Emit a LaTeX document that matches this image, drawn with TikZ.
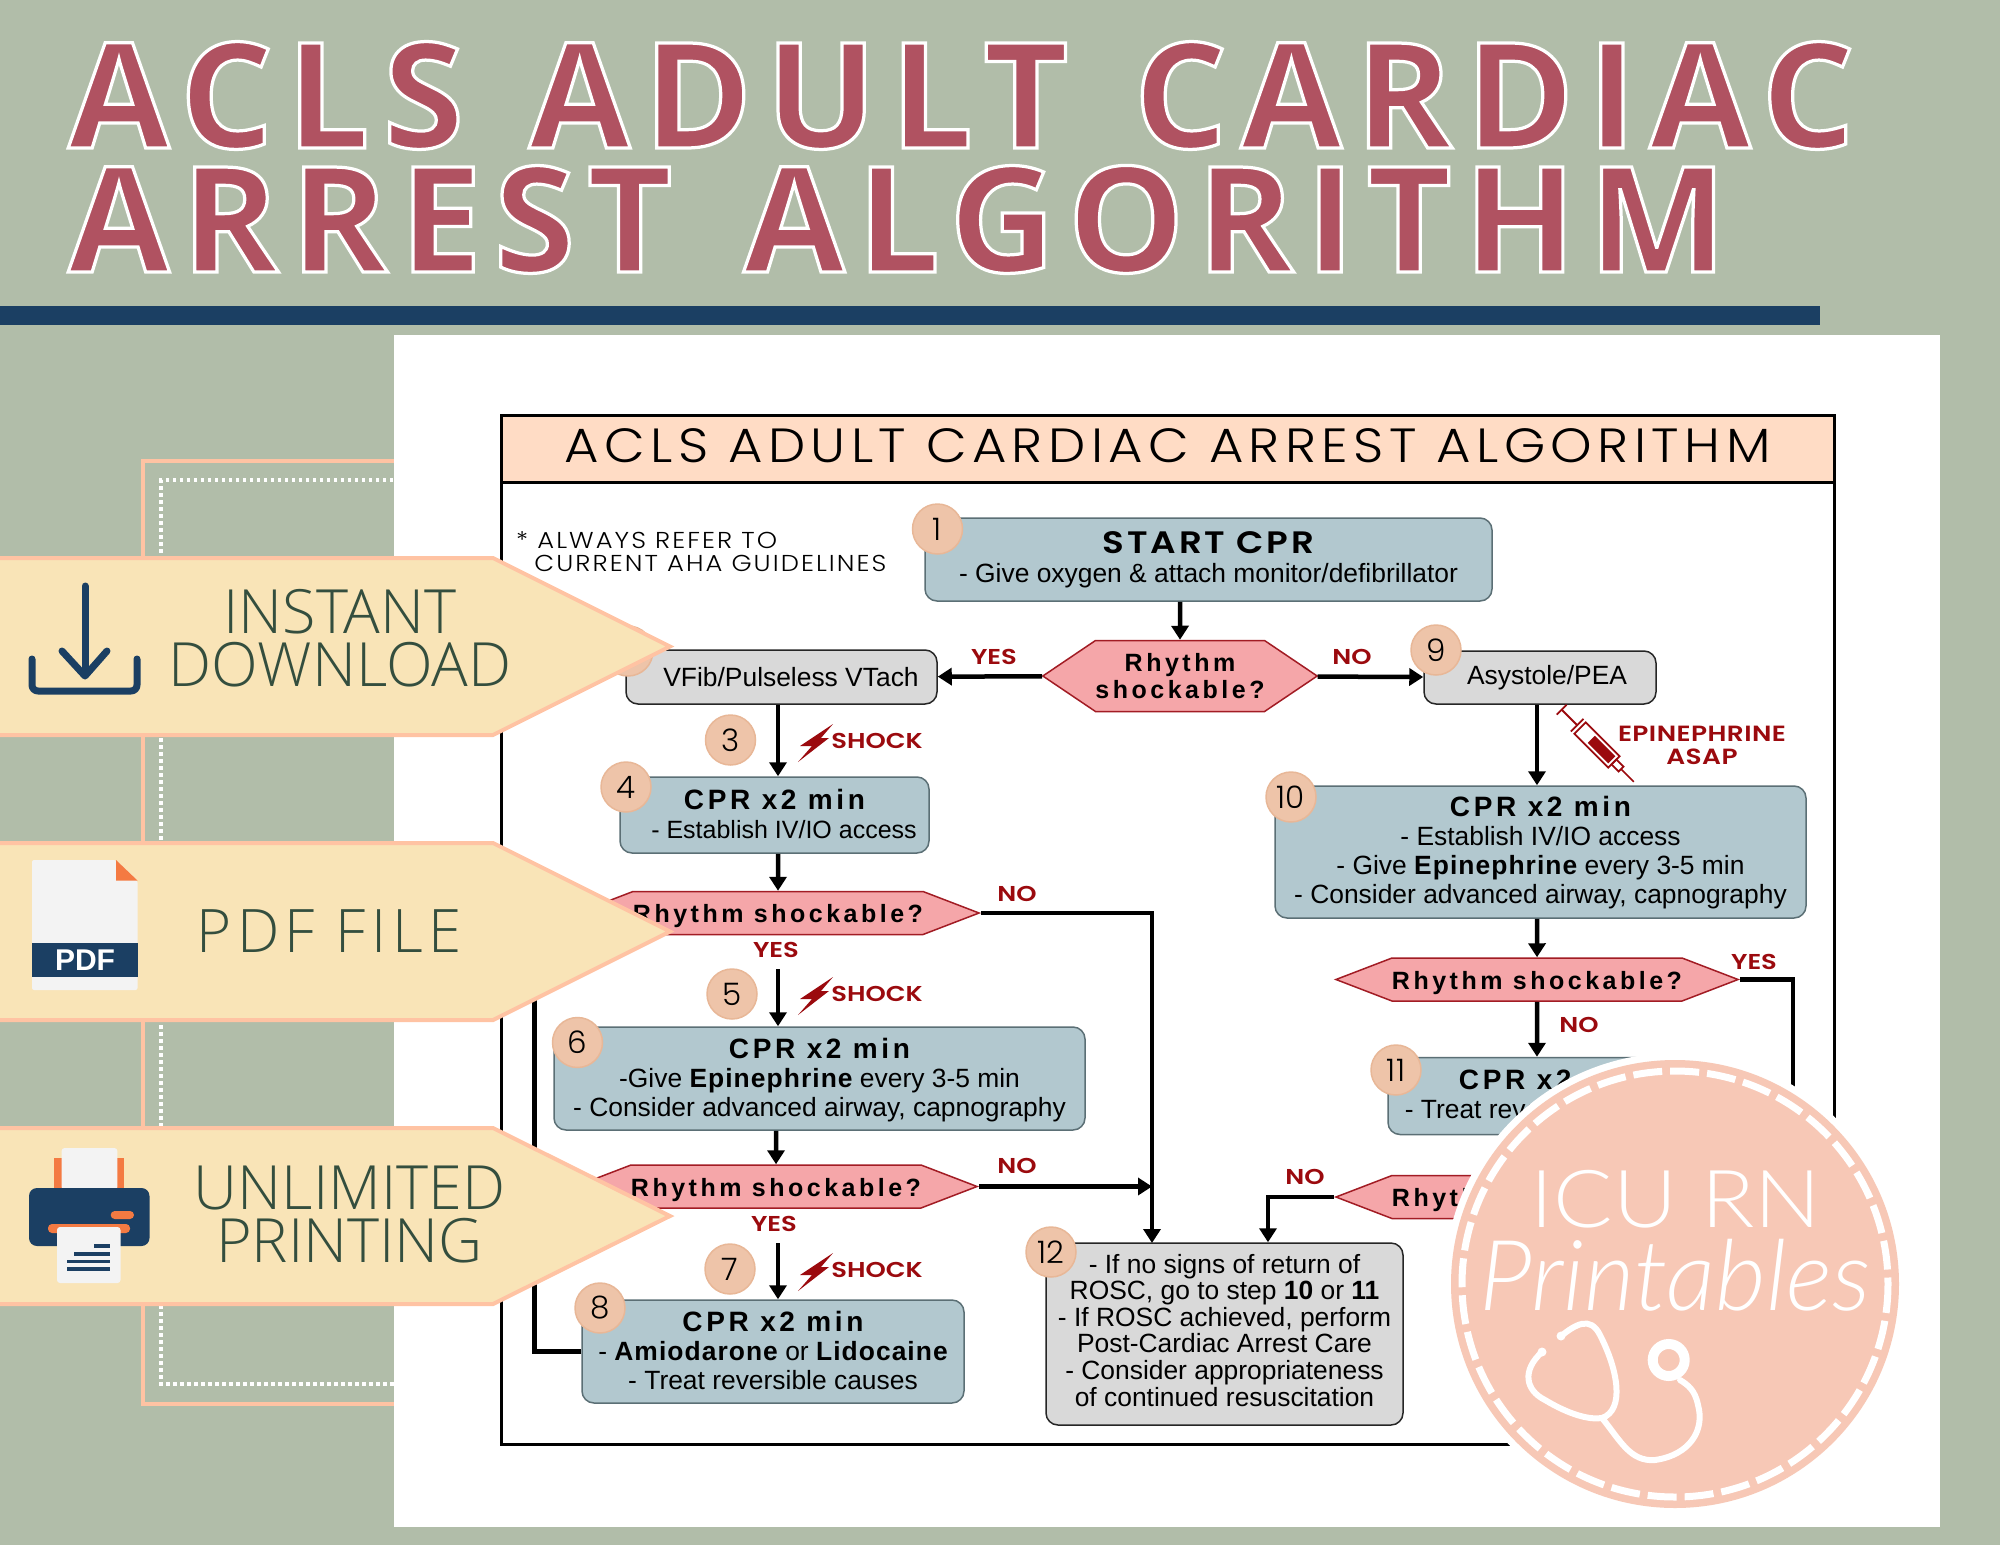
\documentclass[tikz,border=0pt]{standalone}
\usepackage{fontspec}
\usetikzlibrary{positioning,arrows.meta,shapes.symbols,shapes.geometric}
\setmainfont{Liberation Sans}
\newfontfamily\titlefont[LetterSpace=9,FakeBold=2.2]{Open Sans Bold}
\newfontfamily\titlefonttwo[LetterSpace=8.2,FakeBold=2.2]{Open Sans Bold}
\newfontfamily\sheetfont[LetterSpace=11.3,FakeStretch=1.1]{Poppins Light}
\newfontfamily\notefont[LetterSpace=9,FakeStretch=1.12]{Poppins Light}
\newfontfamily\numfont{Poppins Light}
\newfontfamily\markfont[FakeStretch=1.2]{Poppins SemiBold}
\newfontfamily\startfont[LetterSpace=9,FakeStretch=1.15]{Poppins SemiBold}
\newfontfamily\spacedfont[LetterSpace=14]{Liberation Sans Bold}
\newfontfamily\cprfont[LetterSpace=13]{Liberation Sans Bold}
\newfontfamily\wordfont[LetterSpace=4]{Liberation Sans Bold}
\newfontfamily\bannerfont{Open Sans Light}
\newfontfamily\bannerwide[LetterSpace=9]{Open Sans Light}
\newfontfamily\badgefont[FakeStretch=1.1]{Lato Light}
\newfontfamily\handfont{Lato Light Italic}
\definecolor{sage}{HTML}{B1BDA9}
\definecolor{navy}{HTML}{1B3F63}
\definecolor{peach}{HTML}{FFC3A3}
\definecolor{header}{HTML}{FFDCC5}
\definecolor{actfill}{HTML}{B2C8CF}
\definecolor{actedge}{HTML}{5B6F75}
\definecolor{greyfill}{HTML}{D9D9D9}
\definecolor{hexfill}{HTML}{F5A6A9}
\definecolor{hexedge}{HTML}{A21C24}
\definecolor{darkred}{HTML}{9B0A0E}
\definecolor{dotfill}{HTML}{EEC4A9}
\definecolor{dotedge}{HTML}{E8B797}
\definecolor{banner}{HTML}{F9E4B7}
\definecolor{bannertext}{HTML}{344E3E}
\definecolor{iconorange}{HTML}{F47A42}
\definecolor{paper}{HTML}{F3F3F3}
\definecolor{badge}{HTML}{F7C8B6}
% red lettering with a white edge
\newcommand{\titletext}[1]{\special{pdf:bcolor [0.69 0.32 0.38] [1 1 1]}#1\special{pdf:ecolor}}
\newcommand{\boltmark}[1]{\fill[darkred,shift={#1}] (18,-19) -- (-15,3) -- (-3,3) -- (-17,19) -- (14,-5) -- (6,-5) -- cycle;}
\newcommand{\cprline}{{\cprfont\fontsize{28}{29}\selectfont CPR x2 min}}
\begin{document}
\begin{tikzpicture}[
    x=1pt, y=-1pt,
    actbox/.style={draw=actedge, fill=actfill, line width=1.5pt, rounded corners=12pt, align=center, inner sep=0pt, font=\fontsize{26.4}{29}\selectfont},
    greybox/.style={draw=black!85, fill=greyfill, line width=1.5pt, rounded corners=12pt, align=center, inner sep=0pt, font=\fontsize{26.4}{26.6}\selectfont},
    decide/.style={draw=hexedge, fill=hexfill, line width=1.5pt, signal, signal to=east and west, align=center, inner sep=0pt, font=\spacedfont\fontsize{25}{27}\selectfont},
    decideline/.style={decide, minimum height=43pt, signal pointer angle=42, text height=25pt},
    numdot/.style={circle, draw=dotedge, fill=dotfill, line width=1.5pt, minimum size=50pt, inner sep=0pt, font=\numfont\fontsize{31}{31}\selectfont},
    marklabel/.style={inner sep=0pt, text=darkred, font=\markfont\fontsize{21.5}{21.5}\selectfont},
    flow/.style={-{Triangle[length=14pt,width=17pt]}, line width=4.5pt},
    plainflow/.style={line width=4.5pt},
    pennant/.style={draw=peach, fill=banner, line width=4pt},
    bannerlabel/.style={inner sep=0pt, text=bannertext, align=center, font=\bannerfont\fontsize{61}{53}\selectfont},
    headline/.style={anchor=base west, inner sep=0pt, text height=105pt, text depth=0pt},
    icon/.style={draw=navy, line width=7pt, line cap=round, line join=round}
]
    % Page
    \fill[sage] (0,0) rectangle (2000,1545);
    \useasboundingbox (0,0) rectangle (2000,1545);
    \node[headline, font=\titlefont\fontsize{147}{147}\selectfont] (headone) at (68,148) {\titletext{ACLS\hspace{13.5pt} ADULT\hspace{14pt} CARDIAC}};
    \node[headline, font=\titlefonttwo\fontsize{147}{147}\selectfont] (headtwo) at (68,272) {\titletext{ARREST\hspace{21pt} ALGORITHM}};
    \fill[navy] (0,306) rectangle (1820,325);
    \draw[peach, line width=4pt] (400,461) -- (143,461) -- (143,1404) -- (400,1404);
    \draw[white, line width=4pt, dash pattern=on 3.5pt off 3.5pt] (400,480) -- (161,480) -- (161,1384) -- (400,1384);
    \fill[white] (394,335) rectangle (1940,1527);

    % Sheet
    \node[draw=black, fill=header, line width=3pt, outer sep=0pt, minimum width=1333pt, minimum height=67pt, inner sep=0pt, text depth=6pt, font=\sheetfont\fontsize{48}{48}\selectfont] (sheethead) at (1167.5,448.5) {ACLS ADULT CARDIAC ARREST ALGORITHM};
    \draw[black, line width=3pt] (sheethead.south west) -- (501,1444) -- (1834,1444) -- (sheethead.south east);
    \node[anchor=north west, inner sep=0pt, align=left, font=\notefont\fontsize{23}{23}\selectfont] (note) at (516,531) {* ALWAYS REFER TO\\\ \ CURRENT AHA GUIDELINES};

    % Top of the chart
    \node[actbox, minimum width=567pt, minimum height=83pt] (start) at (1208.5,559.5) {{\startfont\fontsize{31}{30}\selectfont START CPR}\\- Give oxygen \& attach monitor/defibrillator};
    \node[decide, minimum width=270pt, minimum height=71pt, signal pointer angle=68] (hexone) at (1180,676) {Rhythm\\shockable?};
    \node[greybox, minimum width=311pt, minimum height=54pt] (vfib) at (781.5,677) {\hspace*{19pt}VFib/Pulseless VTach};
    \node[greybox, minimum width=232pt, minimum height=53pt] (asys) at (1540,677.5) {\hspace*{14pt}Asystole/PEA};
    \draw[flow] (hexone |- start.south) -- (hexone);
    \draw[flow] (hexone) -- (vfib);
    \draw[flow] (hexone) -- (asys);
    \node[marklabel] (yesone) at (994,657) {YES};
    \node[marklabel] (noone) at (1352,657) {NO};

    % Left column
    \node[actbox, minimum width=309pt, minimum height=76pt, text depth=3pt] (cprfour) at (774.5,815) {\cprline\\\hspace*{19pt}{\fontsize{25}{29}\selectfont - Establish IV/IO access}};
    \node[decideline, minimum width=396pt] (hextwo) at (778,913) {Rhythm shockable?};
    \draw[flow] (hextwo |- vfib.south) -- (hextwo |- cprfour.north);
    \draw[flow] (hextwo |- cprfour.south) -- (hextwo);
    \node[actbox, minimum width=531pt, minimum height=103pt, text depth=3pt] (cprsix) at (819.5,1078.5) {\cprline\\-Give {\wordfont Epinephrine} every 3-5 min\\- Consider advanced airway, capnography};
    \node[decideline, minimum width=392pt] (hexthree) at (776,1186.5) {Rhythm shockable?};
    \node[actbox, minimum width=382pt, minimum height=103pt, text depth=3pt] (cpreight) at (773,1351.5) {\cprline\\- {\wordfont Amiodarone} or {\wordfont Lidocaine}\\- Treat reversible causes};
    \coordinate (yestwo) at (778,969);
    \coordinate (yesthree) at (778,1243);
    \draw[flow] (yestwo) -- (yestwo |- cprsix.north);
    \draw[flow] (hexthree |- cprsix.south) -- (hexthree);
    \draw[flow] (yesthree) -- (yesthree |- cpreight.north);
    \draw[flow] (cpreight.west) -- ++(-47,0) |- (hextwo.west);
    \node[marklabel] at (776,950) {YES};
    \node[marklabel] at (774,1224) {YES};
    \node[marklabel] at (1017,894) {NO};
    \node[marklabel] at (1017,1166) {NO};

    % Shock marks
    \boltmark{(815,743)}
    \node[marklabel] (shockone) at (877,741) {SHOCK};
    \boltmark{(815,996)}
    \node[marklabel] (shocktwo) at (877,994) {SHOCK};
    \boltmark{(815,1272)}
    \node[marklabel] (shockthree) at (877,1270) {SHOCK};

    % Right column
    \node[actbox, minimum width=531pt, minimum height=132pt, text depth=5pt] (cprten) at (1540.5,852) {\cprline\\- Establish IV/IO access\\- Give {\wordfont Epinephrine} every 3-5 min\\- Consider advanced airway, capnography};
    \node[decideline, minimum width=395pt] (hexfour) at (1537,979.5) {Rhythm shockable?};
    \node[actbox, minimum width=310pt, minimum height=77pt, below=55pt of hexfour, xshift=6pt, text depth=5pt] (cpreleven) {\hspace*{13pt}\cprline\\\hspace*{13pt}- Treat reversible causes};
    \node[decideline, minimum width=395pt] (hexfive) at (1537,1197) {Rhythm shockable?};
    \draw[flow] (hexfour |- asys.south) -- (hexfour |- cprten.north);
    \draw[flow] (hexfour |- cprten.south) -- (hexfour);
    \draw[flow] (hexfour) -- (hexfour |- cpreleven.north);
    \draw[flow] (hexfour |- cpreleven.south) -- (hexfive);
    \draw[plainflow] (hexfour.east) -- (1793,979.5) |- (hexfive.east);
    \node[marklabel] at (1754,962) {YES};
    \node[marklabel] at (1579,1025) {NO};
    \node[marklabel] at (1305,1177) {NO};
    \node[marklabel, align=center, font=\markfont\addfontfeature{LetterSpace=2}\fontsize{22}{23}\selectfont] (epi) at (1702,745.5) {EPINEPHRINE\\ASAP};

    % Syringe
    \begin{scope}[shift={(1597,745)}, rotate=-45]
        \draw[darkred, line width=1.8pt] (-50,-7) -- (-50,7);
        \draw[darkred, line width=1.8pt] (-50,0) -- (-28,0);
        \draw[darkred, line width=1.8pt] (-28,-9) -- (-28,9);
        \draw[darkred, line width=1.8pt] (-24,-8) rectangle (24,8);
        \fill[darkred] (-8,-5) rectangle (21,5);
        \draw[darkred, line width=1.8pt] (24,-3.5) rectangle (34,3.5);
        \draw[darkred, line width=1.5pt] (34,0) -- (52,0);
    \end{scope}

    % Last box
    \node[greybox, minimum width=357pt, minimum height=182pt, text depth=8pt] (closing) at (1224.5,1334) {- If no signs of return of\\ROSC, go to step \textbf{10} or \textbf{11}\\- If ROSC achieved, perform\\Post-Cardiac Arrest Care\\- Consider appropriateness\\of continued resuscitation};
    \coordinate (leftdrop) at (1268,1197);
    \draw[flow] (hexfive.west) -- (leftdrop |- hexfive.west) -- (leftdrop |- closing.north);
    \draw[flow] (hextwo.east) -- (1152,913) -- (1152,1243);
    \draw[flow] (hexthree.east) -- (1152,1186.5);

    % Step numbers
    \node[numdot] (dotone) at (937.5,529) {1};
    \node[numdot] (dottwo) at (628,651) {2};
    \node[numdot] (dotthree) at (730.5,740) {3};
    \node[numdot] (dotfour) at (626,787) {4};
    \node[numdot] (dotfive) at (732,994) {5};
    \node[numdot] (dotsix) at (577.5,1042.5) {6};
    \node[numdot] (dotseven) at (730,1269) {7};
    \node[numdot] (doteight) at (600,1308) {8};
    \node[numdot] (dotnine) at (1436,650) {9};
    \node[numdot] (dotten) at (1291,797) {10};
    \node[numdot] (doteleven) at (1396,1070) {11};
    \node[numdot] (dottwelve) at (1051,1252) {12};

    % Banners
    \draw[pennant] (-5,558) -- (493,558) -- (670,646.5) -- (493,735) -- (-5,735) -- cycle;
    \draw[pennant] (-5,843) -- (493,843) -- (670,931.5) -- (493,1020) -- (-5,1020) -- cycle;
    \draw[pennant] (-5,1128) -- (493,1128) -- (670,1216) -- (493,1304) -- (-5,1304) -- cycle;
    \node[bannerlabel] (instant) at (340,638) {INSTANT\\DOWNLOAD};
    \node[bannerlabel, font=\bannerwide\fontsize{60}{60}\selectfont] (pdffile) at (329,931) {PDF FILE};
    \node[bannerlabel] (unlimited) at (349.5,1215) {UNLIMITED\\PRINTING};

    % Download icon
    \draw[icon] (85,586) -- (85,674);
    \draw[icon] (62,651) -- (85,676) -- (107,651);
    \draw[icon, rounded corners=6pt] (32,659) -- (32,691) -- (137,691) -- (137,659);

    % File icon
    \fill[paper, rounded corners=2pt] (32,860) -- (116,860) -- (137.5,880.5) -- (137.5,990) -- (32,990) -- cycle;
    \fill[iconorange] (116,860) -- (137.5,880.5) -- (116,880.5) -- cycle;
    \fill[navy] (32,943) rectangle (137.5,977);
    \node[text=white, inner sep=0pt, font=\bfseries\fontsize{30}{30}\selectfont] (pdficon) at (85,960) {PDF};

    % Printer icon
    \fill[iconorange] (53.6,1158) rectangle (123.6,1188);
    \fill[paper, rounded corners=3pt] (61.6,1148) rectangle (117.4,1190);
    \fill[navy, rounded corners=8pt] (29,1188) rectangle (149.5,1246);
    \fill[iconorange, rounded corners=4pt] (110.7,1211) rectangle (134,1219);
    \fill[iconorange, rounded corners=4pt] (48,1224) rectangle (130,1233);
    \fill[paper, rounded corners=3pt] (57,1227) rectangle (120.5,1283);
    \fill[navy] (94,1244) rectangle (110,1248);
    \fill[navy] (74,1252) rectangle (110,1256);
    \fill[navy] (67,1260) rectangle (110,1263);
    \fill[navy] (67,1267) rectangle (110,1271);

    % Badge
    \fill[white] (1675,1284) circle (231);
    \fill[badge] (1675,1284) circle (224);
    \draw[white, line width=7pt, dash pattern=on 29pt off 8pt] (1675,1284) circle (213);
    \node[inner sep=0pt, text=white, font=\badgefont\fontsize{80}{80}\selectfont] (icurn) at (1676,1199) {ICU RN};
    \node[inner sep=0pt, text=white, font=\handfont\fontsize{98}{98}\selectfont] (printables) at (1675,1275) {Printables};
    \draw[white, line width=6pt, line cap=round] (1542,1352) .. controls (1522,1370) and (1525,1390) .. (1545,1400) .. controls (1570,1415) and (1590,1420) .. (1602,1418) .. controls (1625,1410) and (1618,1370) .. (1600,1335) .. controls (1590,1315) and (1575,1325) .. (1561,1336);
    \draw[white, line width=6pt, line cap=round] (1602,1418) .. controls (1620,1440) and (1630,1462) .. (1655,1460) .. controls (1690,1455) and (1705,1430) .. (1698,1405) .. controls (1695,1390) and (1688,1385) .. (1680,1380);
    \draw[white, line width=10pt] (1668.7,1360) circle (16);
    \fill[white] (1542,1352) circle (4.5);
    \fill[white] (1561,1336) circle (4.5);
\end{tikzpicture}
\end{document}
